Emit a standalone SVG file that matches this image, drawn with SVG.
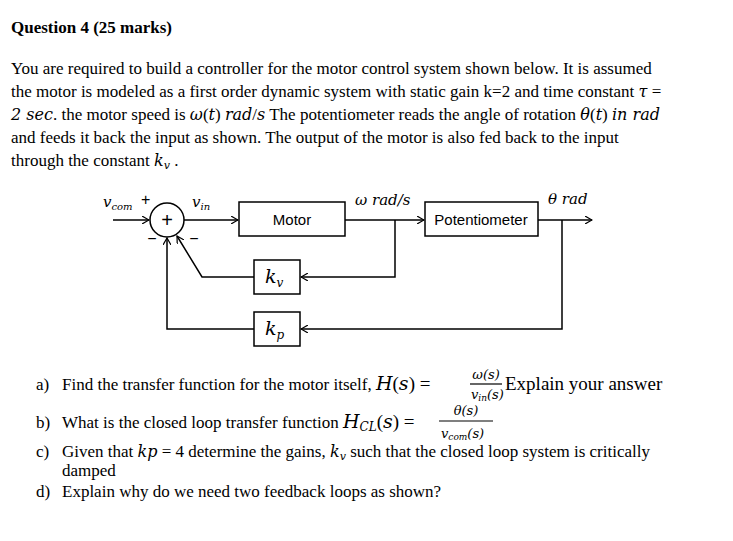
<svg xmlns="http://www.w3.org/2000/svg" width="733" height="541" viewBox="0 0 733 541">
<defs>
<style>
.t{font-family:"Liberation Serif",serif;fill:#000}
.m{font-family:"DejaVu Serif","Liberation Serif",serif;font-style:italic;fill:#000}
.b{fill:#fff;stroke:#000;stroke-width:1.5}
.l{fill:none;stroke:#000;stroke-width:1.5}
.s{font-family:"Liberation Sans",sans-serif;fill:#000}
</style>
<marker id="a" markerWidth="8" markerHeight="8" refX="7" refY="4" orient="auto" markerUnits="userSpaceOnUse"><path d="M0,0 L7,4 L0,8" fill="none" stroke="#000" stroke-width="1.2"/></marker>
</defs>
<rect width="733" height="541" fill="#fff"/>
<g class="t" style="font-size:17px">
<text x="11" y="33" font-weight="bold">Question 4 (25 marks)</text>
<text x="11" y="74">You are required to build a controller for the motor control system shown below. It is assumed</text>
<text x="11" y="97">the motor is modeled as a first order dynamic system with static gain k=2 and time constant <tspan class="m" style="font-size:16px">τ</tspan> =</text>
<text x="11" y="120"><tspan class="m" style="font-size:16px">2 sec</tspan>.  the motor speed is <tspan class="m" style="font-size:16px">ω</tspan>(<tspan class="m" style="font-size:16px">t</tspan>) <tspan class="m" style="font-size:16px">rad</tspan>/<tspan class="m" style="font-size:16px">s</tspan> The potentiometer reads the angle of rotation <tspan class="m" style="font-size:16px">θ</tspan>(<tspan class="m" style="font-size:16px">t</tspan>) <tspan class="m" style="font-size:16px">in rad</tspan></text>
<text x="11" y="143">and feeds it back the input as shown.  The output of the motor is also fed back to the input</text>
<text x="11" y="166">through the constant <tspan class="m" style="font-size:16px">k</tspan><tspan class="m" style="font-size:11px" dy="3">v</tspan><tspan dy="-3"> .</tspan></text>
</g>

<g id="connectors">
<line class="l" x1="113" y1="220" x2="149" y2="220" marker-end="url(#a)"/>
<line class="l" x1="184" y1="220" x2="238" y2="220" marker-end="url(#a)"/>
<line class="l" x1="345" y1="220" x2="424" y2="220" marker-end="url(#a)"/>
<line class="l" x1="538" y1="220" x2="592" y2="220" marker-end="url(#a)"/>
<polyline class="l" points="395,220 395,277 301,277" marker-end="url(#a)"/>
<polyline class="l" points="254,277 202,277 177,236" marker-end="url(#a)"/>
<polyline class="l" points="562,220 562,329 301,329" marker-end="url(#a)"/>
<polyline class="l" points="254,329 167,329 167,238" marker-end="url(#a)"/>
</g>
<g id="sum">
<circle class="b" cx="167" cy="220" r="17"/>
<text class="s" x="167" y="227" text-anchor="middle" style="font-size:20px">+</text>
<text class="s" x="152" y="244" text-anchor="middle" style="font-size:16px">−</text>
<text class="s" x="194" y="244" text-anchor="middle" style="font-size:16px">−</text>
</g>
<g id="motor"><rect class="b" x="239" y="202" width="106" height="34"/><text class="s" x="292" y="225" text-anchor="middle" style="font-size:15px">Motor</text></g>
<g id="pot"><rect class="b" x="425" y="202" width="113" height="34"/><text class="s" x="481" y="225" text-anchor="middle" style="font-size:15px">Potentiometer</text></g>
<g id="kv"><rect class="b" x="254" y="260" width="46" height="34"/><text class="m" x="265" y="283" style="font-size:19px">k<tspan style="font-size:12px" dy="4">v</tspan></text></g>
<g id="kp"><rect class="b" x="254" y="312" width="46" height="34"/><text class="m" x="265" y="335" style="font-size:19px">k<tspan style="font-size:12px" dy="4">p</tspan></text></g>
<text class="m" x="103" y="207" style="font-size:15px">v<tspan style="font-size:10px" dy="3">com</tspan></text>
<text class="s" x="141" y="205" style="font-size:16px">+</text>
<text class="m" x="192" y="207" style="font-size:15px">v<tspan style="font-size:10px" dy="3">in</tspan></text>
<text class="m" x="355" y="205" style="font-size:15px">ω rad/s</text>
<text class="m" x="548" y="204" style="font-size:15px">θ rad</text>

<g class="t" style="font-size:17px">
<text x="36" y="390">a)</text>
<text x="62" y="390">Find the transfer function for the motor itself, <tspan class="m" style="font-size:19px">H</tspan><tspan style="font-size:19px">(</tspan><tspan class="m" style="font-size:19px">s</tspan><tspan style="font-size:19px">) =</tspan></text>
<text x="505" y="390" style="font-size:19px">Explain your answer</text>
<text x="36" y="428">b)</text>
<text x="62" y="428">What is the closed loop transfer function  <tspan class="m" style="font-size:19px">H</tspan><tspan class="m" style="font-size:12px" dy="3">CL</tspan><tspan style="font-size:19px" dy="-3">(</tspan><tspan class="m" style="font-size:19px">s</tspan><tspan style="font-size:19px">) =</tspan></text>
<text x="36" y="457">c)</text>
<text x="62" y="457">Given that <tspan class="m" style="font-size:16px">kp</tspan> = 4 determine the gains, <tspan class="m" style="font-size:16px">k</tspan><tspan class="m" style="font-size:11px" dy="3">v</tspan><tspan dy="-3">  such that the closed loop system is critically</tspan></text>
<text x="62" y="476">damped</text>
<text x="36" y="497">d)</text>
<text x="62" y="497">Explain why do we need two feedback loops as shown?</text>
</g>
<text class="m" x="486" y="379" style="font-size:13px" text-anchor="middle">ω(s)</text>
<line x1="470" y1="384" x2="502" y2="384" stroke="#000" stroke-width="1.2"/>
<text class="m" x="471" y="399" style="font-size:13px">v<tspan style="font-size:9px" dy="2">in</tspan><tspan dy="-2">(s)</tspan></text>
<text class="m" x="466" y="415" style="font-size:13px" text-anchor="middle">θ(s)</text>
<line x1="439" y1="421" x2="493" y2="421" stroke="#000" stroke-width="1.2"/>
<text class="m" x="441" y="438" style="font-size:13px">v<tspan style="font-size:9px" dy="2">com</tspan><tspan dy="-2">(s)</tspan></text>
</svg>
